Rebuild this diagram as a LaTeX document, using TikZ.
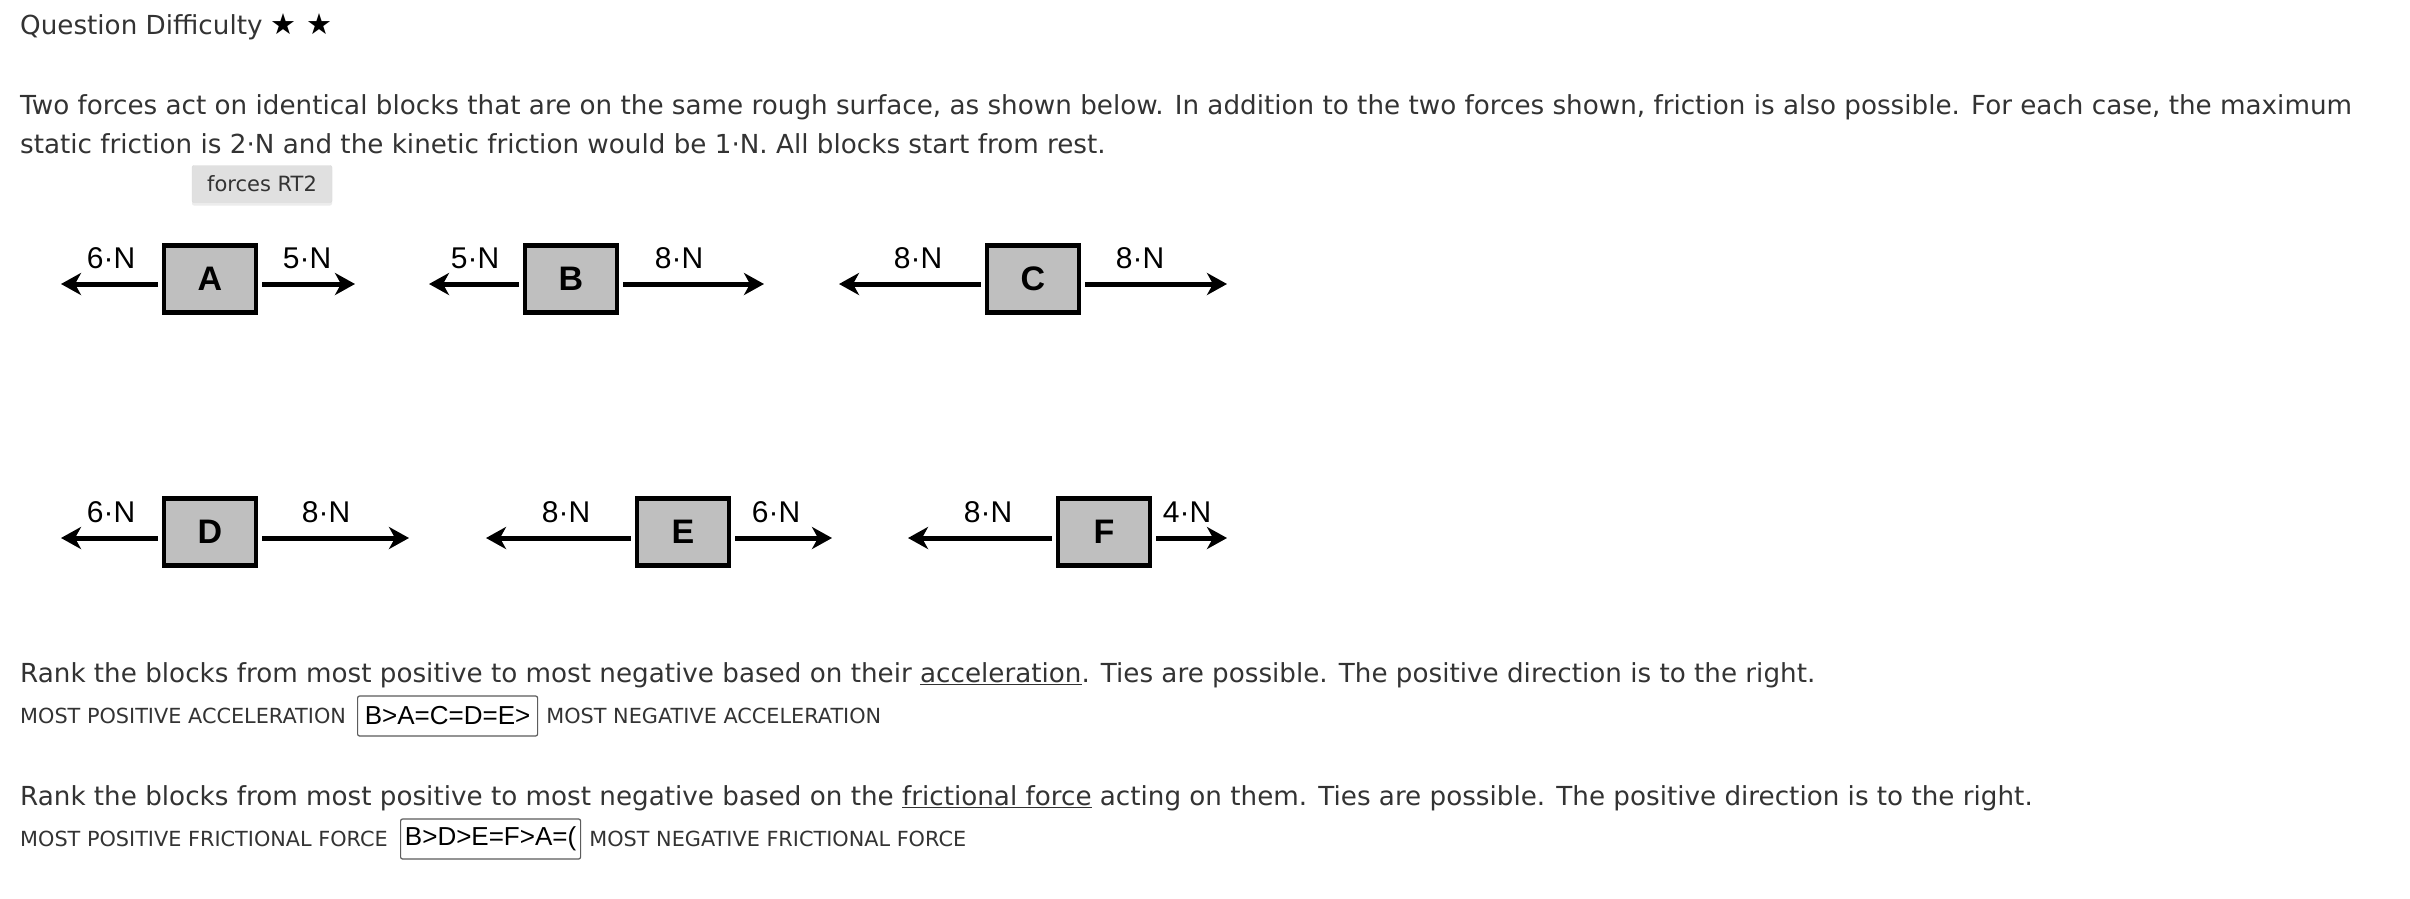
\documentclass[tikz,border=0pt]{standalone}
\usepackage{fontspec}
\setmainfont{DejaVu Sans}
\newfontfamily\lab{Liberation Sans}
\usetikzlibrary{arrows.meta,shadows}
\definecolor{txt}{HTML}{333333}
\tikzset{
 body/.style={anchor=base west,inner sep=0,text=txt,font=\fontsize{26.2}{30}\selectfont},
 small/.style={anchor=base west,inner sep=0,text=txt,font=\fontsize{20.8}{24}\selectfont},
 blk/.style={draw=black,line width=4.5pt,fill=black!25,minimum width=92pt,minimum height=67pt,inner sep=0,font=\lab\bfseries\fontsize{34}{34}\selectfont},
 frc/.style={line width=5pt,-{Stealth[length=20pt,width=22pt,inset=6pt]}},
 flab/.style={inner sep=0,anchor=base,font=\lab\fontsize{30}{30}\selectfont},
 ans/.style={draw=txt!80,rounded corners=2pt,line width=1.2pt,anchor=west,inner sep=3pt,text=black,font=\lab\fontsize{26}{26}\selectfont}
}
\begin{document}
\begin{tikzpicture}[x=1pt,y=-1pt]
\useasboundingbox (0,0) rectangle (2410,898);
\fill[white] (0,0) rectangle (2410,898);
\node[body] (q) at (20,34) {Question Difficulty {\fontsize{29}{29}\selectfont\color{black}★ ★}};
\node[body] (l1) at (20,114) {Two forces act on identical blocks that are on the same rough surface, as shown below. In addition to the two forces shown, friction is also possible. For each case, the maximum};
\node[body] (l2) at (20,153) {static friction is 2·N and the kinetic friction would be 1·N. All blocks start from rest.};
\node[fill=black!12,draw=black!15,rounded corners=2pt,drop shadow={opacity=0.15,shadow xshift=0pt,shadow yshift=-3pt},minimum width=140pt,minimum height=37pt,inner sep=0,text=txt,font=\fontsize{21}{21}\selectfont] (tag) at (262,184) {forces RT2};
\node[blk] (A) at (210,279) {A};
\node[blk] (B) at (571,279) {B};
\node[blk] (C) at (1033,279) {C};
\node[blk] (D) at (210,532) {D};
\node[blk] (E) at (683,532) {E};
\node[blk] (F) at (1104,532) {F};
\coordinate (Al) at (61,284); \coordinate (Ar) at (355,284);
\coordinate (Bl) at (429,284); \coordinate (Br) at (764,284);
\coordinate (Cl) at (839,284); \coordinate (Cr) at (1227,284);
\coordinate (Dl) at (61,538); \coordinate (Dr) at (409,538);
\coordinate (El) at (486,538); \coordinate (Er) at (832,538);
\coordinate (Fl) at (908,538); \coordinate (Fr) at (1227,538);
\foreach \b in {A,B,C,D,E,F}{
 \draw[frc] (\b.west|-\b l) ++(-4,0) -- (\b l);
 \draw[frc] (\b.east|-\b r) ++(4,0) -- (\b r);
}
\node[flab] (a1) at (111,268) {6·N}; \node[flab] (a2) at (307,268) {5·N};
\node[flab] (b1) at (475,268) {5·N}; \node[flab] (b2) at (679,268) {8·N};
\node[flab] (c1) at (918,268) {8·N}; \node[flab] (c2) at (1140,268) {8·N};
\node[flab] (d1) at (111,522) {6·N}; \node[flab] (d2) at (326,522) {8·N};
\node[flab] (e1) at (566,522) {8·N}; \node[flab] (e2) at (776,522) {6·N};
\node[flab] (f1) at (988,522) {8·N}; \node[flab] (f2) at (1187,522) {4·N};
\node[body] (r1) at (20,682) {Rank the blocks from most positive to most negative based on their \underline{acceleration}. Ties are possible. The positive direction is to the right.};
\node[small] (m1) at (20,723) {MOST POSITIVE ACCELERATION};
\node[ans,minimum width=180pt,minimum height=40pt] (b1x) at (357,716) {B>A=C=D=E>};
\node[small] (n1) at ([xshift=8pt]b1x.east |- m1.base) {MOST NEGATIVE ACCELERATION};
\node[body] (r2) at (20,805) {Rank the blocks from most positive to most negative based on the \underline{frictional force} acting on them. Ties are possible. The positive direction is to the right.};
\node[small] (m2) at (20,846) {MOST POSITIVE FRICTIONAL FORCE};
\node[ans,minimum width=180pt,minimum height=40pt] (b2x) at (400,839) {B>D>E=F>A=(};
\node[small] (n2) at ([xshift=8pt]b2x.east |- m2.base) {MOST NEGATIVE FRICTIONAL FORCE};
\end{tikzpicture}
\end{document}
